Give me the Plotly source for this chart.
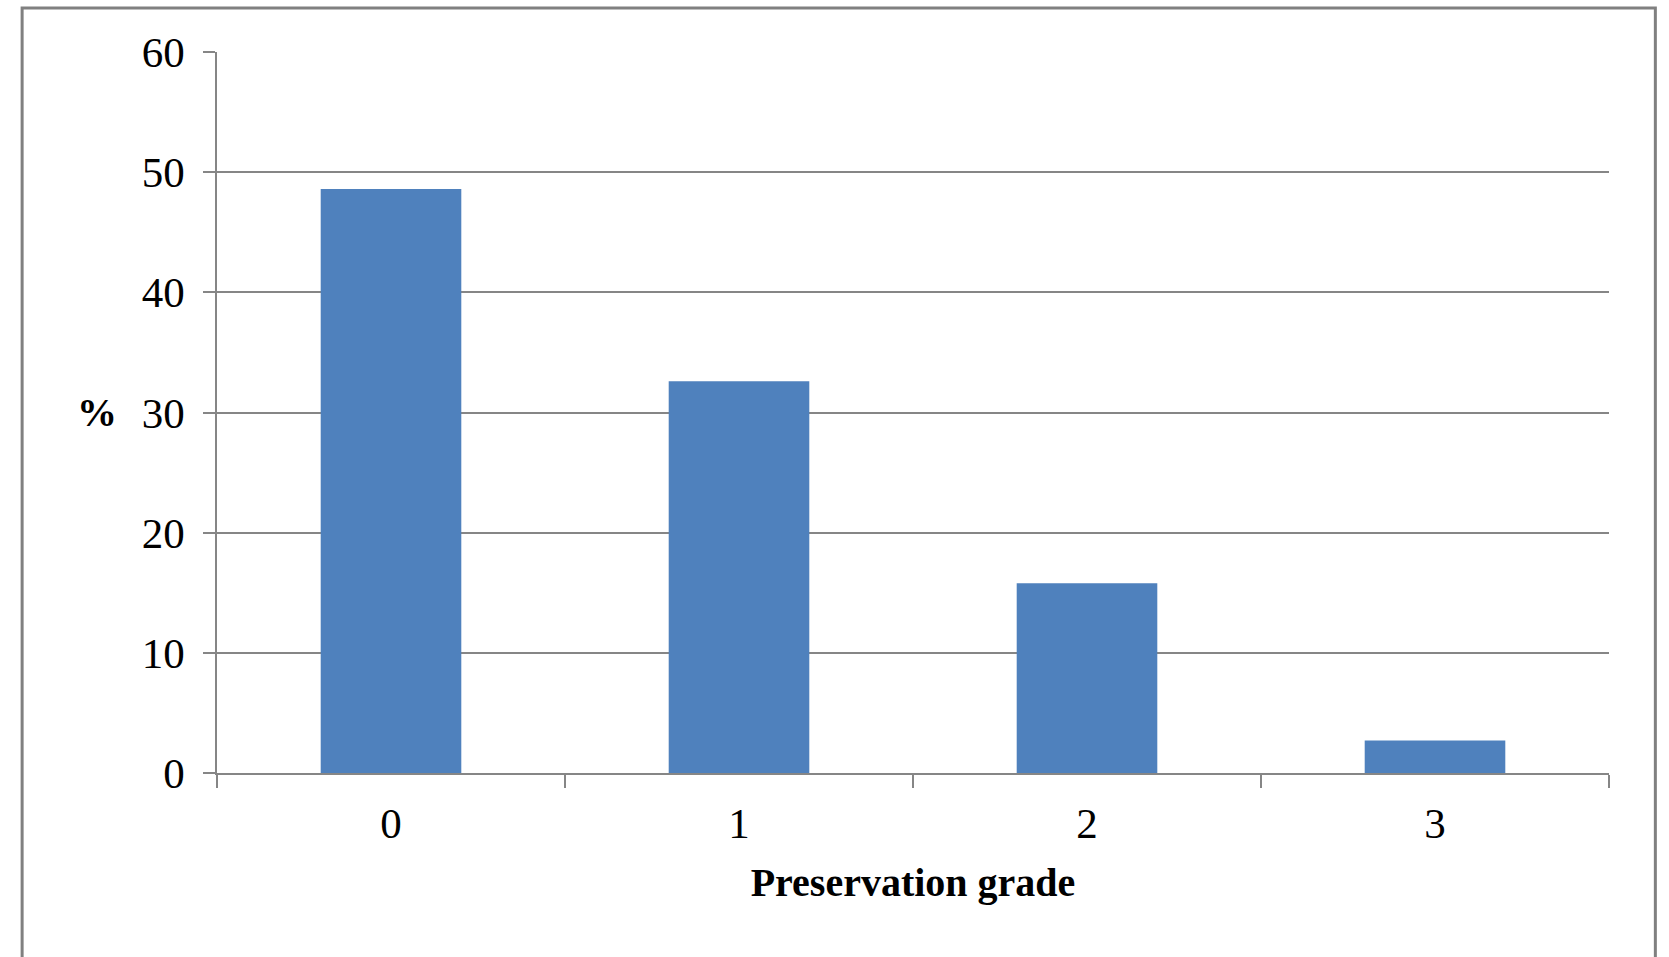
import plotly.graph_objects as go

categories = ["0", "1", "2", "3"]
values = [48.6, 32.6, 15.8, 2.7]
y_ticks = [0, 10, 20, 30, 40, 50, 60]

GRAY = "#868686"
FONT = "Liberation Serif"

fig = go.Figure()
fig.add_trace(go.Bar(x=categories, y=values, marker=dict(color="#4F81BD", line=dict(width=0))))

fig.update_layout(
    width=1669, height=957,
    margin=dict(l=217, r=60, t=52, b=184),
    paper_bgcolor="white", plot_bgcolor="white",
    bargap=0.596,
    showlegend=False,
    font=dict(family=FONT, color="black", size=42),
    xaxis=dict(
        type="category",
        tickson="boundaries",
        ticks="outside", ticklen=13, tickwidth=1.5, tickcolor=GRAY,
        showline=True, linecolor=GRAY, linewidth=1.5,
        showgrid=False,
        ticklabelstandoff=12,
        tickfont=dict(family=FONT, size=43, color="black"),
        title=dict(text="<b>Preservation grade</b>", font=dict(family=FONT, size=40, color="black"), standoff=22),
    ),
    yaxis=dict(
        range=[0, 60],
        tickvals=y_ticks,
        ticks="outside", ticklen=12, tickwidth=1.5, tickcolor=GRAY,
        showline=True, linecolor=GRAY, linewidth=1.5,
        showgrid=True, gridcolor=GRAY, gridwidth=1.5,
        zeroline=False,
        ticklabelstandoff=10,
        tickfont=dict(family=FONT, size=43, color="black"),
    ),
    annotations=[
        dict(text="<b>%</b>", xref="paper", yref="paper", x=-0.086, y=0.50,
             showarrow=False, font=dict(family=FONT, size=40, color="black"),
             xanchor="center", yanchor="middle"),
    ],
    shapes=[
        dict(type="rect", xref="paper", yref="paper", x0=-0.140, x1=1.0333, y0=-0.30, y1=1.061,
             line=dict(color="#808080", width=3), fillcolor="rgba(0,0,0,0)", layer="below"),
    ],
)

fig.write_html("out.html")
